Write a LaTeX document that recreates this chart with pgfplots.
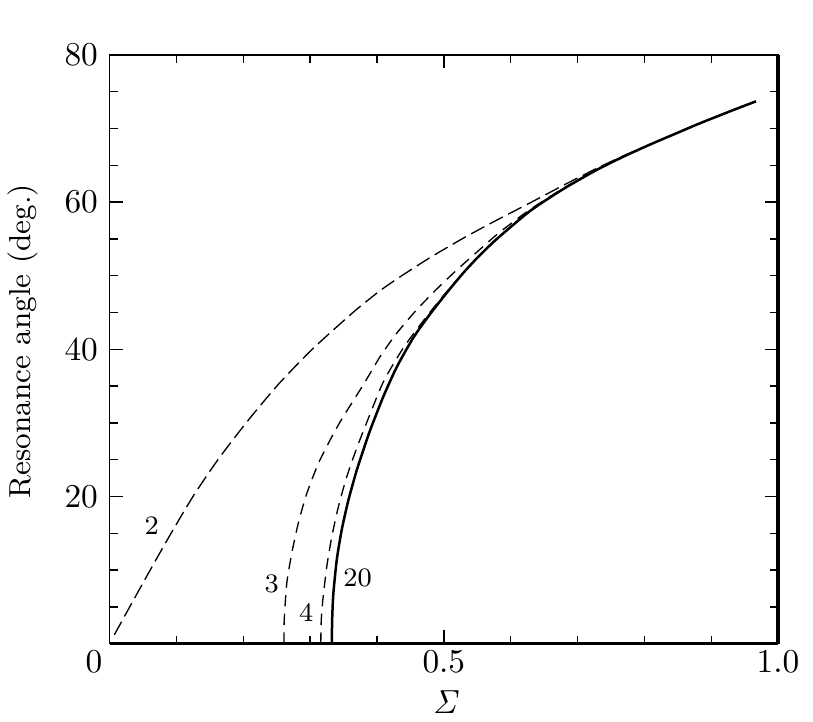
\documentclass[border=0pt]{standalone}
\usepackage{pgfplots}
\pgfplotsset{compat=1.18}
\begin{document}
\begin{tikzpicture}
\begin{axis}[
  name=ax,
  at={(0,0)}, anchor=south west,
  scale only axis, width=200.5pt, height=176.6pt,
  xmin=0, xmax=1, ymin=0, ymax=80,
  xtick={0,0.5,1}, xticklabels={,0.5,1.0},
  minor x tick num=4,
  ytick={0,20,40,60,80}, yticklabels={,20,40,60,80},
  minor y tick num=3,
  tick align=inside,
  major tick length=4pt, minor tick length=2.4pt,
  tick style={black, line width=0.4pt},
  axis line style={line width=0.4pt},
  ticklabel style={font=\fontsize{10}{12}\selectfont},
  xticklabel style={yshift=1.4pt},
  xlabel={$\mathit{\Sigma}$},
  xlabel style={at={(axis description cs:0.504,-0.0985)}, anchor=center, font=\fontsize{10}{12}\selectfont},
  ylabel={Resonance angle (deg.)},
  ylabel style={at={(axis description cs:-0.1297,0.514)}, anchor=center, font=\fontsize{9.1}{11}\selectfont},
]
% n = 20 (solid)
\addplot[black, line width=0.75pt, smooth, tension=0.4] coordinates {
(0.3323,0) (0.3330,3.5) (0.3347,6.8) (0.3398,11.4) (0.3473,15.5) (0.3572,19.5)
(0.3698,23.6) (0.3847,27.7) (0.3922,29.6) (0.4096,33.6) (0.4296,37.6) (0.4545,41.6)
(0.4795,44.8) (0.5045,47.7) (0.5293,50.4) (0.5518,52.6) (0.5793,55.0) (0.629,58.8)
(0.679,61.8) (0.729,64.4) (0.769,66.2) (0.809,67.85) (0.849,69.4) (0.884,70.75)
(0.934,72.55) (0.967,73.7)};
% n = 4
\addplot[black, line width=0.4pt, dash pattern=on 3.4pt off 2.2pt, smooth, tension=0.4] coordinates {
(0.3159,0) (0.3165,3) (0.3189,5.9) (0.3249,10.5) (0.3323,14.5) (0.3422,18.6)
(0.3548,22.7) (0.3698,26.6) (0.3835,29.8) (0.4096,35.6) (0.4395,40.2) (0.4695,43.9)
(0.4994,47.3) (0.5293,50.4) (0.5518,52.6) (0.5793,55.0) (0.629,58.8) (0.679,61.8)
(0.729,64.4) (0.769,66.2) (0.809,67.85) (0.849,69.4) (0.884,70.75) (0.934,72.55) (0.967,73.7)};
% n = 3
\addplot[black, line width=0.4pt, dash pattern=on 3.4pt off 2.2pt, smooth, tension=0.4] coordinates {
(0.2609,0) (0.2612,3.2) (0.2650,8.2) (0.2725,12.3) (0.2823,16.4) (0.2949,20.4)
(0.3123,24.5) (0.3323,28.1) (0.3485,30.7) (0.3796,35.2) (0.4046,39.0) (0.4296,42.2)
(0.4596,45.4) (0.4895,48.2) (0.5195,50.8) (0.5518,53.4) (0.5793,55.6) (0.605,57.4)
(0.629,59.0) (0.679,61.9) (0.729,64.4) (0.769,66.2) (0.809,67.85) (0.849,69.4)
(0.884,70.75) (0.934,72.55) (0.967,73.7)};
% n = 2
\addplot[black, line width=0.4pt, dash pattern=on 4.5pt off 1.8pt, smooth, tension=0.4] coordinates {
(0.007,1.2) (0.030,5.0) (0.060,9.9) (0.090,14.7) (0.125,20.05) (0.162,25.0)
(0.205,30.1) (0.252,35.2) (0.303,40.0) (0.364,45.0) (0.405,48.0) (0.437,50.0)
(0.480,52.5) (0.530,55.15) (0.580,57.6) (0.629,59.9) (0.679,62.3) (0.729,64.6)
(0.769,66.3) (0.809,67.85) (0.849,69.4) (0.884,70.75) (0.934,72.55) (0.967,73.7)};
\node[font=\footnotesize] at (axis cs:0.063,16.1) {2};
\node[font=\footnotesize] at (axis cs:0.2425,8.1) {3};
\node[font=\footnotesize] at (axis cs:0.294,4.3) {4};
\node[font=\footnotesize] at (axis cs:0.371,8.9) {20};
\end{axis}
\draw[line width=0.8pt] (ax.south west) -- (ax.south east);
\draw[line width=1.1pt] (ax.south east) -- (ax.north east);
\node[font=\fontsize{10}{12}\selectfont, anchor=center] at ([xshift=-4.7pt,yshift=-5.5pt]ax.south west) {0};
\pgfresetboundingbox
\path (-32.9pt,-23.5pt) rectangle (211.0pt,193.1pt);
\end{tikzpicture}
\end{document}
